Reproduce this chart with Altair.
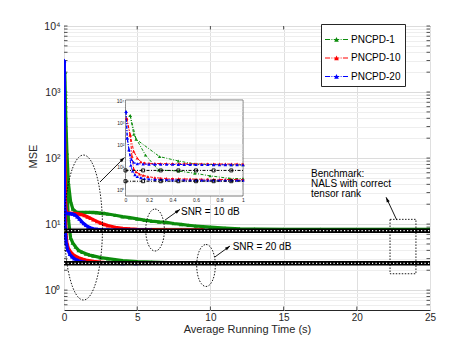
import altair as alt
import pandas as pd

W, H = 366, 284
FONT = "Liberation Sans"
SERIES = ["PNCPD-1", "PNCPD-10", "PNCPD-20"]
COLORS = ["#0c8c0c", "#ff0000", "#0000ff"]

# ---------------- main panel data (x: running time [s], y: MSE) ----------------
g10_x = [0.04, 0.1, 0.2, 0.3, 0.45, 0.6, 0.8, 1.0, 1.25, 1.5, 1.75, 2.0, 2.25, 2.5, 2.75, 3.0, 3.5, 4.0,
         4.5, 5.0, 5.5, 6.0, 6.5, 7.0, 7.5, 8.0, 8.5, 9.0, 9.5, 10.0, 11.0, 12.0, 13.0, 15.0, 17.5, 20.0, 22.5, 25.0]
g10_y = [2000, 600, 120, 42, 22, 17, 15.4, 15.0, 15.0, 15.1, 15.1, 15.0, 14.9, 14.7, 14.5, 14.2, 13.6, 13.0,
         12.5, 12.0, 11.5, 11.1, 10.8, 10.6, 10.2, 9.9, 9.6, 9.35, 9.15, 9.0, 8.7, 8.5, 8.4, 8.35, 8.3, 8.3, 8.3, 8.3]

r10_x = [0.01, 0.03, 0.06, 0.1, 0.15, 0.25, 0.4, 0.6, 0.8, 1.0, 1.2, 1.4, 1.6, 1.8, 2.0, 2.25, 2.5, 2.75,
         3.0, 3.5, 4.0, 4.5, 5.0, 6.0, 7.0, 8.0, 9.0, 9.5]
r10_y = [1500, 300, 60, 22, 16, 14.8, 14.7, 14.6, 14.5, 14.3, 14.0, 13.5, 12.9, 12.3, 11.7, 11.0, 10.4, 9.9,
         9.5, 8.95, 8.6, 8.45, 8.35, 8.25, 8.2, 8.2, 8.2, 8.2]

b10_x = [0.015, 0.02, 0.025, 0.04, 0.07, 0.1, 0.2, 0.3, 0.45, 0.6, 0.75, 0.9, 1.05, 1.2, 1.35, 1.5, 1.65,
         1.8, 2.0, 2.3, 2.6, 3.0, 3.5, 4.0, 5.0, 6.0]
b10_y = [3000, 180, 40, 20, 16, 14.8, 14.6, 14.5, 14.4, 14.2, 13.8, 13.0, 12.0, 11.0, 10.2, 9.6, 9.1,
         8.8, 8.5, 8.3, 8.2, 8.15, 8.1, 8.1, 8.1, 8.1]

g20_x = [0.04, 0.1, 0.2, 0.3, 0.45, 0.6, 0.8, 1.0, 1.25, 1.5, 1.75, 2.0, 2.5, 3.0, 3.5, 4.0, 5.0, 6.0, 7.0,
         8.0, 10.0, 12.0, 14.0, 16.0, 18.0]
g20_y = [2000, 250, 35, 12, 6.2, 5.2, 4.5, 4.0, 3.75, 3.55, 3.4, 3.3, 3.1, 3.0, 2.9, 2.8, 2.7, 2.65, 2.62,
         2.6, 2.58, 2.57, 2.56, 2.56, 2.56]

r20_x = [0.01, 0.03, 0.06, 0.1, 0.15, 0.2, 0.3, 0.45, 0.6, 0.8, 1.0, 1.25, 1.5, 2.0, 2.5, 3.0, 4.0, 5.0, 6.0, 6.6]
r20_y = [1500, 300, 40, 12, 6.5, 5.2, 4.3, 3.8, 3.5, 3.25, 3.1, 2.95, 2.85, 2.72, 2.65, 2.6, 2.57, 2.56, 2.55, 2.55]

b20_x = [0.015, 0.02, 0.025, 0.04, 0.07, 0.1, 0.15, 0.25, 0.4, 0.55, 0.7, 0.85, 1.0, 1.2, 1.5, 2.0, 2.5, 3.0, 4.0, 4.9]
b20_y = [3000, 180, 40, 14, 9, 7.0, 5.2, 4.1, 3.5, 3.2, 3.0, 2.88, 2.78, 2.7, 2.64, 2.58, 2.56, 2.55, 2.54, 2.54]

nals_x = [0, 25]
nals_10 = 7.95
nals_20 = 2.55

# ---------------- inset data (zoom on 0..1 s) ----------------
in_g10_x = [0.04, 0.09, 0.29, 0.45, 0.59, 0.75, 0.9, 1.0]
in_g10_y = [2000, 175, 29, 18.6, 13.6, 12.8, 12.5, 12.4]
in_g20_x = [0.04, 0.07, 0.17, 0.28, 0.45, 0.59, 0.72, 0.88, 1.0]
in_g20_y = [2000, 290, 34, 7.3, 6.6, 5.2, 4.0, 3.1, 3.0]
in_r10_x = [0.01, 0.04, 0.07, 0.1, 0.13, 0.16, 0.2, 0.25, 0.3, 0.35, 0.4, 0.45, 0.5, 0.55, 0.6, 0.65, 0.7,
            0.75, 0.8, 0.85, 0.9, 0.95, 1.0]
in_r10_y = [1500, 270, 50, 25, 17, 15, 14.5, 14.3, 14.2, 14.1, 14.0, 14.0, 13.9, 13.9, 13.8, 13.8, 13.7,
            13.7, 13.6, 13.6, 13.5, 13.5, 13.4]
in_r20_x = [0.01, 0.04, 0.055, 0.07, 0.09, 0.12, 0.15, 0.19, 0.25, 0.3, 0.35, 0.4, 0.45, 0.5, 0.55, 0.6,
            0.65, 0.7, 0.75, 0.8, 0.85, 0.9, 0.95, 1.0]
in_r20_y = [1500, 270, 30, 8, 6, 4.8, 4.2, 3.7, 3.3, 3.15, 3.05, 3.0, 2.95, 2.9, 2.87, 2.85,
            2.82, 2.8, 2.78, 2.76, 2.75, 2.74, 2.73, 2.72]
in_b10_x = [0.005, 0.015, 0.03, 0.05, 0.07, 0.1, 0.15, 0.2, 0.25, 0.3, 0.35, 0.4, 0.45, 0.5, 0.55, 0.6,
            0.65, 0.7, 0.75, 0.8, 0.85, 0.9, 0.95, 1.0]
in_b10_y = [3000, 195, 58, 22, 16, 14, 13.5, 13.3, 13.2, 13.1, 13.0, 13.0, 12.9, 12.9, 12.8, 12.8,
            12.7, 12.7, 12.6, 12.6, 12.5, 12.5, 12.4, 12.4]
in_b20_x = [0.005, 0.015, 0.03, 0.045, 0.06, 0.08, 0.1, 0.13, 0.16, 0.2, 0.25, 0.3, 0.35, 0.4, 0.45, 0.5,
            0.55, 0.6, 0.65, 0.7, 0.75, 0.8, 0.85, 0.9, 0.95, 1.0]
in_b20_y = [3000, 195, 58, 12, 6.5, 4.5, 3.7, 3.3, 3.0, 2.85, 2.75, 2.7, 2.65, 2.62, 2.6, 2.58,
            2.56, 2.55, 2.54, 2.53, 2.52, 2.52, 2.51, 2.5, 2.5, 2.5]
in_nals_mark_x = [0, 0.15, 0.3, 0.45, 0.6, 0.75, 0.9]
in_nals_x = [0, 1]
in_nals_10 = 7.0
in_nals_20 = 2.3

# ---------------- axes ticks ----------------
x_ticks = [0, 5, 10, 15, 20, 25]
y_domain = [0.5, 10000]
y_major = [1, 10, 100, 1000, 10000]
y_minor = [0.6, 0.7, 0.8, 0.9, 2, 3, 4, 5, 6, 7, 8, 9, 20, 30, 40, 50, 60, 70, 80, 90,
           200, 300, 400, 500, 600, 700, 800, 900, 2000, 3000, 4000, 5000, 6000, 7000, 8000, 9000]
inset_x_domain = [0, 1]
inset_x_ticks = [0, 0.2, 0.4, 0.6, 0.8, 1]

# ---------------- annotations (data coordinates) ----------------
ell_x = [1.33, 6.22, 9.70]
ell_y = [8.87, 8.13, 2.36]
ell_h = [145, 42, 42]          # pixel height of each ellipse
ell_ratio = [0.262, 0.443, 0.443]
arrow_x = [2.46, 6.90, 10.31, 22.73]
arrow_y = [43.4, 11.5, 3.18, 11.5]
arrow_x2 = [4.13, 7.92, 11.34, 22.0]
arrow_y2 = [102, 16.7, 4.66, 25.5]
arrow_angle = [46, 54.5, 53.7, 335]
ann_text = ["SNR = 10 dB", "SNR = 20 dB", "Benchmark:", "NALS with correct", "tensor rank"]
ann_text_x = [7.99, 11.52, 16.87, 16.87, 16.87]
ann_text_y = [15.4, 4.45, 57.4, 40.1, 28.3]
box_x, box_x2, box_y, box_y2 = [22.27], [24.04], [1.77], [11.8]


def curves(spec):
    rows = []
    for name, snr, xs, ys in spec:
        for i, (a, b) in enumerate(zip(xs, ys)):
            rows.append(dict(series=name, curve=f"{name} {snr}", idx=i, x=a, y=b))
    return pd.DataFrame(rows)


main_df = curves([
    ("PNCPD-1", "10", g10_x, g10_y), ("PNCPD-1", "20", g20_x, g20_y),
    ("PNCPD-10", "10", r10_x, r10_y), ("PNCPD-10", "20", r20_x, r20_y),
    ("PNCPD-20", "10", b10_x, b10_y), ("PNCPD-20", "20", b20_x, b20_y),
])
nals_df = pd.DataFrame([dict(curve=c, x=a, y=v) for c, v in (("10", nals_10), ("20", nals_20)) for a in nals_x])

inset_df = curves([
    ("PNCPD-1", "10", in_g10_x, in_g10_y), ("PNCPD-1", "20", in_g20_x, in_g20_y),
    ("PNCPD-10", "10", in_r10_x, in_r10_y), ("PNCPD-10", "20", in_r20_x, in_r20_y),
    ("PNCPD-20", "10", in_b10_x, in_b10_y), ("PNCPD-20", "20", in_b20_x, in_b20_y),
])
in_nals_line = pd.DataFrame([dict(curve=c, x=a, y=v) for c, v in (("10", in_nals_10), ("20", in_nals_20)) for a in in_nals_x])
in_nals_mark = pd.DataFrame([dict(curve=c, x=a, y=v) for c, v in (("10", in_nals_10), ("20", in_nals_20)) for a in in_nals_mark_x])

SUP = ("datum.value == 1 ? '10\u2070' : datum.value == 10 ? '10\u00b9' : datum.value == 100 ? '10\u00b2' : "
       "datum.value == 1000 ? '10\u00b3' : datum.value == 10000 ? '10\u2074' : ''")

color_scale = alt.Scale(domain=SERIES, range=COLORS)

# ---------------- main scales / axes ----------------
xs_main = alt.Scale(domain=[0, 25], nice=False, zero=False)
ys_main = alt.Scale(type="log", domain=y_domain, nice=False)
x_axis_main = alt.Axis(values=x_ticks, title="Average Running Time (s)", grid=True, gridColor="#dfdfdf",
                       domain=False, ticks=False, tickSize=0, labelFontSize=10, labelPadding=2,
                       labelFlush=False, labelOverlap=False, format="d", titleFontSize=11,
                       titleFontWeight="normal", titleY=19, titleBaseline="middle")
y_axis_main = alt.Axis(values=y_major + y_minor, labelExpr=SUP, title="MSE", grid=True,
                       gridColor={"condition": {"test": "indexof([1,10,100,1000,10000], datum.value) >= 0",
                                                "value": "#dcdcdc"}, "value": "#eeeeee"},
                       domain=False, ticks=False, tickSize=0, labelFontSize=10.5, labelPadding=4,
                       labelFlush=False, labelOverlap=False, titleFontSize=11, titleFontWeight="normal",
                       titleX=-31, titleY=130, titleBaseline="middle", titleAlign="center")


def MX(f="x"):
    return alt.X(f"{f}:Q", scale=xs_main, axis=x_axis_main)


def MY(f="y"):
    return alt.Y(f"{f}:Q", scale=ys_main, axis=y_axis_main)


LEG_PATH = ("M-1,-0.045H-0.56V0.045H-1Z M-0.44,-0.045H-0.36V0.045H-0.44Z M-0.24,-0.045H0.24V0.045H-0.24Z "
            "M0.36,-0.045H0.44V0.045H0.36Z M0.56,-0.045H1V0.045H0.56Z M-0.2,0.19L0,-0.22L0.2,0.19Z")
legend_def = alt.Legend(title=None, orient="none", legendX=257, legendY=-2, fillColor="white",
                        strokeColor="#262626", padding=4, symbolType=LEG_PATH, symbolSize=529,
                        symbolStrokeWidth=0, symbolOpacity=1, labelFontSize=10, labelColor="black",
                        labelOffset=3, rowPadding=1.5, labelExpr="datum.label + '         '")

ytick_df = pd.DataFrame({"y": y_major + y_minor})
xtick_df = pd.DataFrame({"x": x_ticks[1:-1]})
tick_style = dict(color="#262626", strokeWidth=0.8)
ticks = [
    alt.Chart(ytick_df).mark_rule(**tick_style).encode(y=MY(), x=alt.value(0), x2=alt.value(3.5)),
    alt.Chart(ytick_df).mark_rule(**tick_style).encode(y=MY(), x=alt.value(W), x2=alt.value(W - 3.5)),
    alt.Chart(xtick_df).mark_rule(**tick_style).encode(x=MX(), y=alt.value(H), y2=alt.value(H - 3.5)),
    alt.Chart(xtick_df).mark_rule(**tick_style).encode(x=MX(), y=alt.value(0), y2=alt.value(3.5)),
]

# one layer per series (fixed colour) so that only the legend layer carries the colour field
main_lines, main_pts = [], []
for s, c in zip(SERIES, COLORS):
    sub = main_df[main_df.series == s]
    main_lines.append(alt.Chart(sub).mark_line(color=c, strokeWidth=3.2, clip=True).encode(
        x=MX(), y=MY(), detail="curve:N", order="idx:Q"))
    main_pts.append(alt.Chart(sub).mark_point(shape="triangle-up", color=c, filled=True, size=18, opacity=1,
                                              clip=True).encode(x=MX(), y=MY()))
main_curves = [layer for pair in zip(main_lines, main_pts) for layer in pair]

nals_band = alt.Chart(nals_df).mark_line(color="black", strokeWidth=4.5).encode(x=MX(), y=MY(), detail="curve:N")
nals_dots = alt.Chart(nals_df).mark_line(color="white", strokeWidth=1.2, strokeDash=[1.2, 2.3]).encode(
    x=MX(), y=MY(), detail="curve:N")

leg_df = pd.DataFrame({"series": SERIES, "x": [nals_x[0]] * 3, "y": [y_major[0]] * 3})
legend_layer = alt.Chart(leg_df).mark_point(filled=True, opacity=0).encode(
    x=MX(), y=MY(), color=alt.Color("series:N", scale=color_scale, legend=legend_def))

ell_df = pd.DataFrame({
    "x": ell_x, "y": ell_y,
    "shape": [f"M0,-1A{r},1 0 1,1 0,1A{r},1 0 1,1 0,-1Z" for r in ell_ratio],
    "size": [h * h for h in ell_h],
})
ellipses = alt.Chart(ell_df).mark_point(filled=False, color="black", strokeWidth=0.9, strokeDash=[1.5, 1.5],
                                        opacity=1).encode(
    x=MX(), y=MY(), shape=alt.Shape("shape:N", scale=None), size=alt.Size("size:Q", scale=None))
arrow_df = pd.DataFrame({"x": arrow_x, "y": arrow_y, "x2": arrow_x2, "y2": arrow_y2, "angle": arrow_angle})
arrows = alt.Chart(arrow_df).mark_rule(color="black", strokeWidth=0.9).encode(
    x=MX("x"), y=MY("y"), x2="x2:Q", y2="y2:Q")
heads = alt.Chart(arrow_df).mark_point(shape="M0,0L0.55,1.7L-0.55,1.7Z", filled=True, color="black",
                                       size=36, opacity=1).encode(
    x=MX("x2"), y=MY("y2"), angle=alt.Angle("angle:Q", scale=None))
text_df = pd.DataFrame({"x": ann_text_x, "y": ann_text_y, "text": ann_text})
texts = alt.Chart(text_df).mark_text(align="left", baseline="middle", fontSize=10, font=FONT, color="black").encode(
    x=MX(), y=MY(), text="text:N")
box_df = pd.DataFrame({"x": box_x, "x2": box_x2, "y": box_y, "y2": box_y2})
box = alt.Chart(box_df).mark_rect(fill="white", fillOpacity=0, stroke="black", strokeWidth=0.9,
                                  strokeDash=[1.5, 1.5]).encode(x=MX(), x2="x2:Q", y=MY(), y2="y2:Q")

main = alt.layer(*ticks, *main_curves, nals_band, nals_dots, ellipses, arrows, heads, texts, box, legend_layer)

# ---------------- inset ----------------
xs_in = alt.Scale(domain=inset_x_domain, range=[61.5, 179], nice=False, zero=False)
ys_in = alt.Scale(type="log", domain=y_domain, range=[170, 74], nice=False)
x_axis_in = alt.Axis(values=inset_x_ticks, format="~g", title=None, grid=False, domain=False, ticks=False,
                     tickSize=0, labelFontSize=5, labelPadding=1.5, orient="bottom", offset=-114,
                     labelFlush=False, labelOverlap=False)
y_axis_in = alt.Axis(values=y_major, labelExpr=SUP, title=None, grid=False, domain=False, ticks=False,
                     tickSize=0, labelFontSize=5, labelPadding=1.5, orient="left", offset=-61.5,
                     labelFlush=False, labelOverlap=False)


def IX(f="x"):
    return alt.X(f"{f}:Q", scale=xs_in, axis=x_axis_in)


def IY(f="y"):
    return alt.Y(f"{f}:Q", scale=ys_in, axis=y_axis_in)


in_bg_df = pd.DataFrame({"x": [inset_x_domain[0]], "x2": [inset_x_domain[1]], "y": [y_domain[0]], "y2": [y_domain[1]]})
in_bg = alt.Chart(in_bg_df).mark_rect(fill="white", stroke="#444444", strokeWidth=0.7).encode(
    x=IX(), x2="x2:Q", y=IY(), y2="y2:Q")
in_vgrid_df = pd.DataFrame({"x": inset_x_ticks[1:-1], "y": y_domain[0], "y2": y_domain[1]})
in_vgrid = alt.Chart(in_vgrid_df).mark_rule(color="#e2e2e2", strokeWidth=0.6).encode(x=IX(), y=IY(), y2="y2:Q")
in_hgrid_df = pd.DataFrame({"y": y_major[1:-1] + y_minor, "x": inset_x_domain[0], "x2": inset_x_domain[1]})
in_hgrid = alt.Chart(in_hgrid_df).mark_rule(color="#ececec", strokeWidth=0.5).encode(y=IY(), x=IX(), x2="x2:Q")

in_curves = []
for s, c in zip(SERIES, COLORS):
    sub = inset_df[inset_df.series == s]
    in_curves.append(alt.Chart(sub).mark_line(color=c, strokeWidth=1, strokeDash=[3, 1.5, 1, 1.5]).encode(
        x=IX(), y=IY(), detail="curve:N", order="idx:Q"))
    in_curves.append(alt.Chart(sub).mark_point(shape="triangle-up", color=c, filled=True, size=11,
                                               opacity=1).encode(x=IX(), y=IY()))
in_nals_l = alt.Chart(in_nals_line).mark_line(color="black", strokeWidth=1, strokeDash=[3, 1.5, 1, 1.5]).encode(
    x=IX(), y=IY(), detail="curve:N")
in_nals_p = alt.Chart(in_nals_mark).mark_point(shape="square", filled=False, color="black", size=9,
                                               strokeWidth=0.9, opacity=1).encode(x=IX(), y=IY())

inset = alt.layer(in_bg, in_vgrid, in_hgrid, *in_curves, in_nals_l, in_nals_p)

chart = alt.layer(main, inset).resolve_scale(x="independent", y="independent").properties(
    width=W, height=H,
    autosize=alt.AutoSizeParams(type="none"),
    padding={"left": 64, "top": 26, "right": 44, "bottom": 37},
    background="white",
).configure_view(stroke="#262626", strokeWidth=1).configure_axis(
    labelFont=FONT, titleFont=FONT, labelColor="#262626", titleColor="#262626"
).configure_legend(labelFont=FONT).configure_text(font=FONT)

chart.save("out.html", embed_options={"renderer": "svg", "actions": False})
